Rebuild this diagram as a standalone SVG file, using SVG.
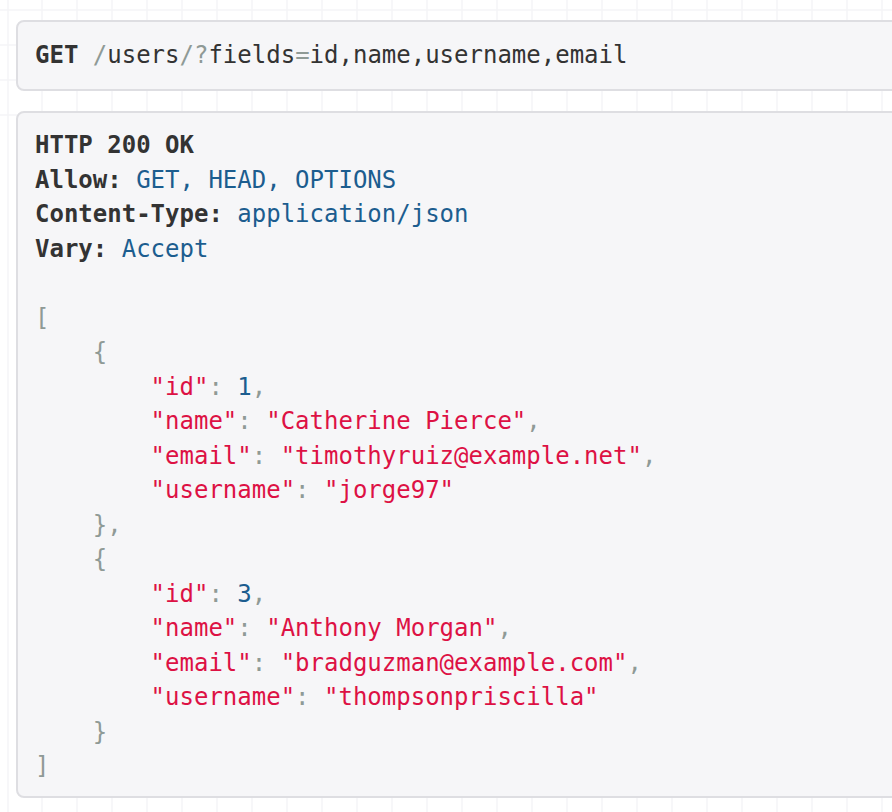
<svg xmlns="http://www.w3.org/2000/svg" width="892" height="812" viewBox="0 0 892 812">
<style>
text{font-family:"DejaVu Sans Mono","Liberation Mono",monospace;font-size:24px;white-space:pre}
.k{fill:#333;font-weight:bold}
.p{fill:#8f9a96}
.b{fill:#1c5d8f}
.r{fill:#dd1144}
.box{fill:#f6f6f8;stroke:#dedee2;stroke-width:2}
.g{stroke:#f5f5f7;stroke-width:1.5}
</style>
<rect width="892" height="812" fill="#fff"/>
<g id="grid">
<path class="g" d="M8 0V812M42 0V812M77 0V812M112 0V812M147 0V812M182 0V812M217 0V812M252 0V812M287 0V812M322 0V812M357 0V812M392 0V812M427 0V812M462 0V812M497 0V812M532 0V812M567 0V812M602 0V812M637 0V812M672 0V812M707 0V812M742 0V812M777 0V812M812 0V812M847 0V812M882 0V812M0 10H892M0 45H892M0 80H892M0 115H892"/>
</g>
<g id="request">
<rect class="box" x="17" y="21" width="890" height="69" rx="7"/>
<text x="35" y="63"><tspan class="k">GET</tspan><tspan class="p"> /</tspan><tspan fill="#333">users</tspan><tspan class="p">/?</tspan><tspan fill="#333">fields</tspan><tspan class="p">=</tspan><tspan fill="#333">id,name,username,email</tspan></text>
</g>
<g id="response">
<rect class="box" x="17" y="112" width="890" height="685" rx="7"/>
<text x="35" y="153" class="k">HTTP 200 OK</text>
<text x="35" y="188"><tspan class="k">Allow:</tspan><tspan class="b"> GET, HEAD, OPTIONS</tspan></text>
<text x="35" y="222"><tspan class="k">Content-Type:</tspan><tspan class="b"> application/json</tspan></text>
<text x="35" y="257"><tspan class="k">Vary:</tspan><tspan class="b"> Accept</tspan></text>
<text x="35" y="326" class="p">[</text>
<text x="35" y="360" class="p">    {</text>
<text x="35" y="395"><tspan class="r">        "id"</tspan><tspan class="p">: </tspan><tspan class="b">1</tspan><tspan class="p">,</tspan></text>
<text x="35" y="429"><tspan class="r">        "name"</tspan><tspan class="p">: </tspan><tspan class="r">"Catherine Pierce"</tspan><tspan class="p">,</tspan></text>
<text x="35" y="464"><tspan class="r">        "email"</tspan><tspan class="p">: </tspan><tspan class="r">"timothyruiz@example.net"</tspan><tspan class="p">,</tspan></text>
<text x="35" y="498"><tspan class="r">        "username"</tspan><tspan class="p">: </tspan><tspan class="r">"jorge97"</tspan></text>
<text x="35" y="533" class="p">    },</text>
<text x="35" y="567" class="p">    {</text>
<text x="35" y="602"><tspan class="r">        "id"</tspan><tspan class="p">: </tspan><tspan class="b">3</tspan><tspan class="p">,</tspan></text>
<text x="35" y="636"><tspan class="r">        "name"</tspan><tspan class="p">: </tspan><tspan class="r">"Anthony Morgan"</tspan><tspan class="p">,</tspan></text>
<text x="35" y="671"><tspan class="r">        "email"</tspan><tspan class="p">: </tspan><tspan class="r">"bradguzman@example.com"</tspan><tspan class="p">,</tspan></text>
<text x="35" y="705"><tspan class="r">        "username"</tspan><tspan class="p">: </tspan><tspan class="r">"thompsonpriscilla"</tspan></text>
<text x="35" y="740" class="p">    }</text>
<text x="35" y="774" class="p">]</text>
</g>
</svg>
